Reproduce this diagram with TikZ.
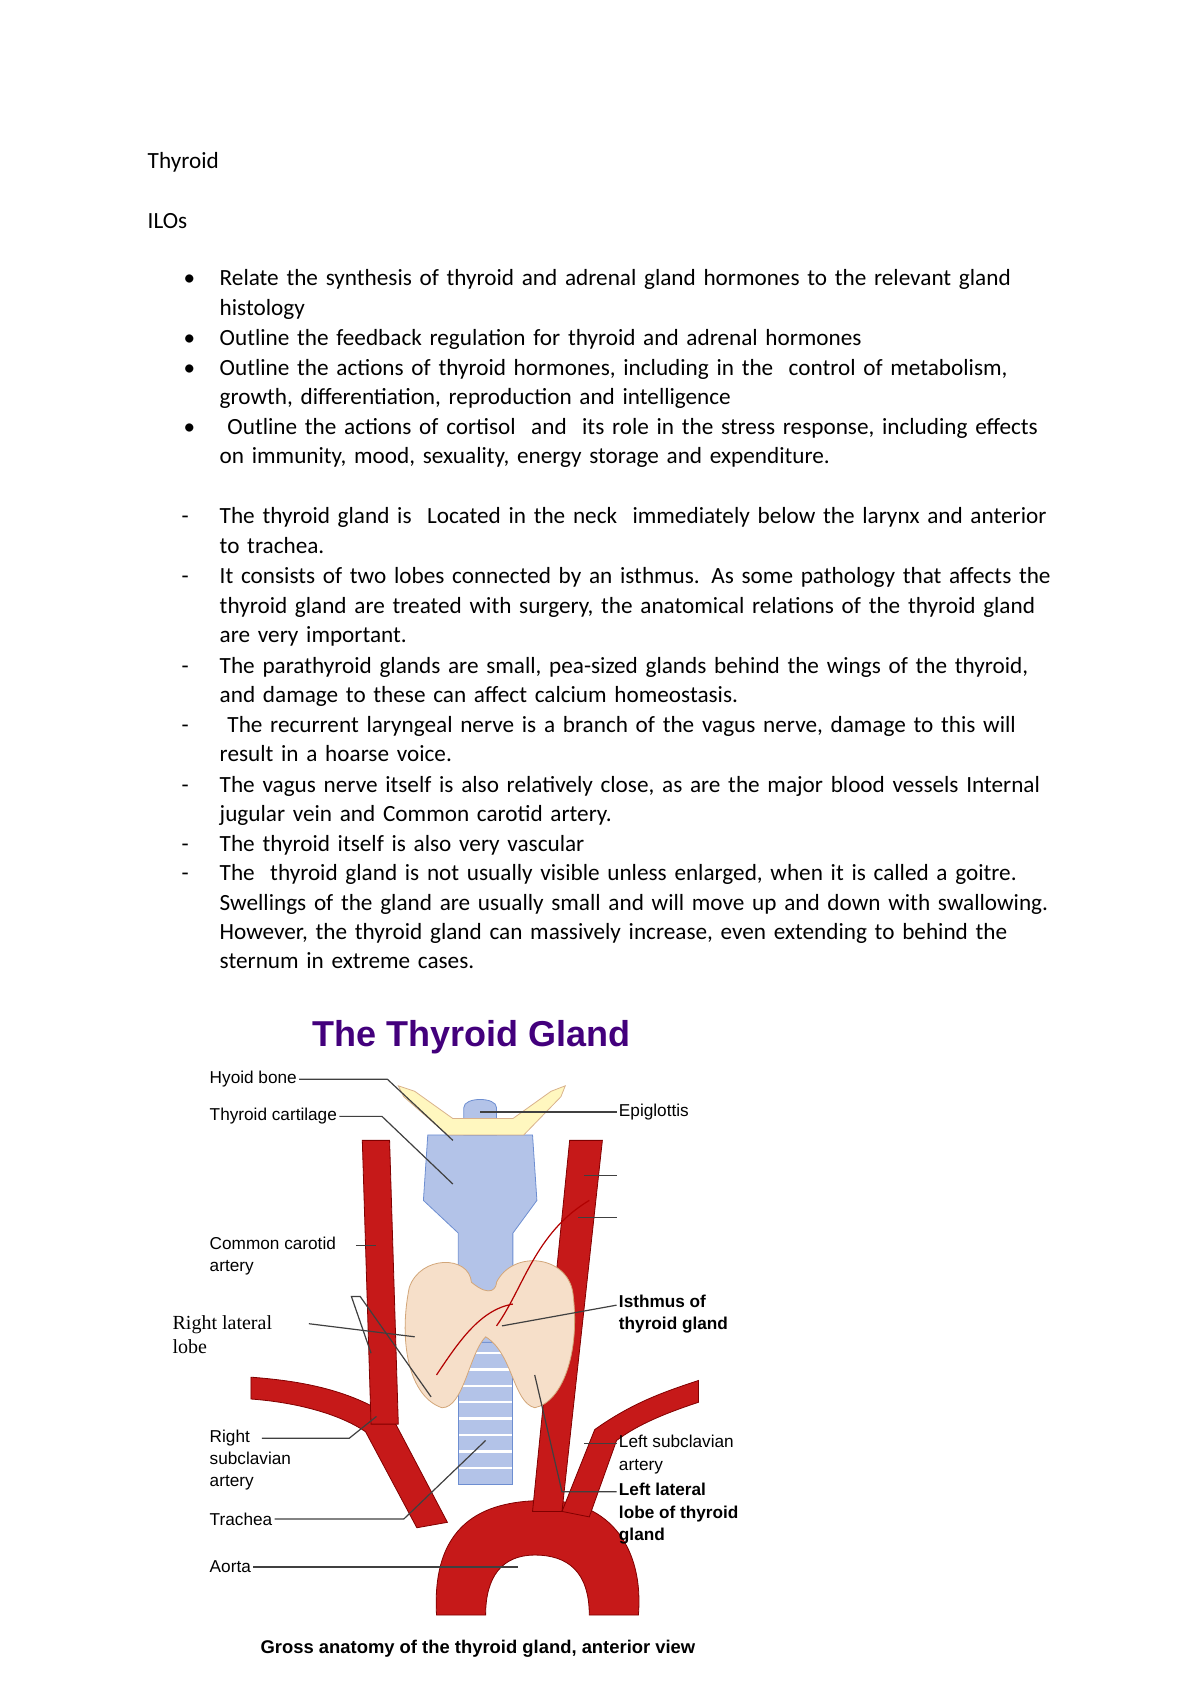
\documentclass[tikz,border=0pt]{standalone}
\usepackage{fontspec}
\setmainfont{Carlito}
\newfontfamily\labelfont{Liberation Sans}
\newfontfamily\serflab{Liberation Serif}
\hyphenpenalty=10000
\exhyphenpenalty=10000
\begin{document}
\begin{tikzpicture}[x=0.5455pt,y=-0.5455pt,
	para/.style={anchor=base west, align=left, text width=425pt, font=\fontsize{11.6}{14.7}\selectfont, inner sep=0pt},
	bul/.style={anchor=base west, inner sep=0pt, font=\fontsize{11.6}{14.7}\selectfont},
	lab/.style={font=\labelfont\fontsize{8.6}{11.2}\selectfont, align=left, inner sep=1pt},
	blab/.style={lab, font=\labelfont\bfseries\fontsize{8.6}{11.2}\selectfont},
	lead/.style={draw=black!75, line width=0.6pt},
	artery/.style={fill=red!75!black!90, draw=red!50!black, line width=0.4pt},
	airway/.style={fill=cyan!45!blue!30, draw=cyan!40!blue!60, line width=0.4pt}]
	\useasboundingbox (0,0) rectangle (1100,1556);

	\node[bul] (head) at (135,154) {Thyroid};
	\node[bul] (ilos) at (135,209) {ILOs};

	\foreach \yy/\txt in {262/{Relate the synthesis of thyroid and adrenal gland hormones to the relevant gland histology},
		317/{Outline the feedback regulation for thyroid and adrenal hormones},
		344/{Outline the actions of thyroid hormones, including in the \ control of metabolism, growth, differentiation, reproduction and intelligence},
		398/{\ Outline the actions of cortisol \ and \ its role in the stress response, including effects on immunity, mood, sexuality, energy storage and expenditure.}}{
		\node[bul] at (168,\yy) {\textbullet};
		\node[para] at (201,\yy) {\txt};
	}

	\foreach \yy/\txt in {480/{The thyroid gland is \ Located in the neck \ immediately below the larynx and anterior to trachea.},
		535/{It consists of two lobes connected by an isthmus. As some pathology that affects the thyroid gland are treated with surgery, the anatomical relations of the thyroid gland are very important.},
		617/{The parathyroid glands are small, pea-sized glands behind the wings of the thyroid, and damage to these can affect calcium homeostasis.},
		671/{\ The recurrent laryngeal nerve is a branch of the vagus nerve, damage to this will result in a hoarse voice.},
		726/{The vagus nerve itself is also relatively close, as are the major blood vessels Internal jugular vein and Common carotid artery.},
		780/{The thyroid itself is also very vascular},
		807/{The \ thyroid gland is not usually visible unless enlarged, when it is called a goitre. Swellings of the gland are usually small and will move up and down with swallowing. However, the thyroid gland can massively increase, even extending to behind the sternum in extreme cases.}}{
		\node[bul] at (166,\yy) {-};
		\node[para] at (201,\yy) {\txt};
	}

	% figure
	\node[font=\labelfont\bfseries\fontsize{18}{22}\selectfont, text=violet!70!blue!75!black] (title) at (432,950) {The Thyroid Gland};

	% aorta and branches
	\fill[artery] (400,1480) .. controls (395,1390) and (450,1375) .. (500,1375) .. controls (560,1375) and (590,1420) .. (585,1480) -- (540,1480) .. controls (540,1440) and (520,1425) .. (490,1425) .. controls (460,1425) and (445,1445) .. (445,1480) -- cycle;
	\fill[artery] (410,1395) -- (360,1300) .. controls (320,1272) and (270,1265) .. (230,1262) -- (230,1282) .. controls (270,1285) and (310,1295) .. (335,1312) -- (382,1400) -- cycle;
	\fill[artery] (332,1045) -- (357,1045) -- (365,1305) -- (340,1305) -- cycle;
	\fill[artery] (522,1045) -- (552,1045) -- (515,1385) -- (488,1385) -- cycle;
	\fill[artery] (515,1385) -- (545,1310) .. controls (580,1285) and (610,1275) .. (640,1265) -- (640,1285) .. controls (610,1295) and (585,1305) .. (565,1320) -- (540,1390) -- cycle;

	% airway
	\fill[airway] (420,1230) rectangle (470,1360);
	\foreach \k in {0,...,7}{\draw[white, line width=1.2pt] (421,1240+\k*15) -- (469,1240+\k*15);}
	\fill[airway] (392,1040) -- (488,1040) -- (492,1100) -- (470,1130) -- (470,1230) -- (420,1230) -- (420,1130) -- (388,1100) -- cycle;
	\fill[airway] (425,1015) .. controls (425,1005) and (455,1005) .. (455,1015) -- (455,1040) -- (425,1040) -- cycle;
	\fill[orange!25!yellow!25, draw=brown!60, line width=0.4pt] (365,995) -- (380,1000) -- (415,1025) -- (470,1025) -- (505,1000) -- (518,995) -- (514,1005) -- (480,1040) -- (410,1040) -- (370,1005) -- cycle;

	% thyroid lobes and isthmus
	\fill[orange!40!brown!25, draw=brown!70, line width=0.4pt] (375,1180) .. controls (385,1150) and (430,1150) .. (432,1175) .. controls (450,1190) and (455,1180) .. (455,1175) .. controls (470,1145) and (520,1150) .. (525,1185) .. controls (532,1240) and (515,1285) .. (490,1290) .. controls (470,1285) and (470,1240) .. (445,1225) .. controls (430,1240) and (425,1290) .. (405,1290) .. controls (375,1280) and (365,1230) .. (375,1180) -- cycle;
	\draw[red!70!black, line width=0.6pt] (540,1100) .. controls (490,1130) and (480,1180) .. (455,1215) (470,1195) .. controls (440,1200) and (420,1230) .. (400,1260);

	% labels
	\node[lab, anchor=west] (hyoid) at (190,989) {Hyoid bone};
	\node[lab, anchor=west] (cart) at (190,1023) {Thyroid cartilage};
	\node[lab, anchor=west] (carotid) at (190,1151) {Common carotid\\artery};
	\node[font=\serflab\fontsize{10}{12}\selectfont, align=left, anchor=west, inner sep=1pt] (rlobe) at (156,1223) {Right lateral\\lobe};
	\node[lab, anchor=west] (rsub) at (190,1338) {Right\\subclavian\\artery};
	\node[lab, anchor=west] (trachea) at (190,1392) {Trachea};
	\node[lab, anchor=west] (aorta) at (190,1436) {Aorta};
	\node[lab, anchor=west] (epi) at (565,1019) {Epiglottis};
	\node[blab, anchor=west] (isth) at (565,1204) {Isthmus of\\thyroid gland};
	\node[lab, anchor=west] (lsub) at (565,1333) {Left subclavian\\artery};
	\node[blab, anchor=west] (llobe) at (565,1387) {Left lateral\\lobe of thyroid\\gland};
	\node[font=\labelfont\bfseries\fontsize{9.2}{11}\selectfont] (caption) at (438,1511) {Gross anatomy of the thyroid gland, anterior view};

	\coordinate (u1) at (565,1077);
	\coordinate (u2) at (565,1116);
	\draw[lead] (hyoid.east) -- (355,989) -- (415,1045);
	\draw[lead] (cart.east) -- (350,1023) -- (415,1085);
	\draw[lead] (326,1141) -- (345,1141);
	\draw[lead] (283,1213) -- (380,1225);
	\draw[lead] (340,1240) -- (322,1188) -- (330,1188) -- (395,1280);
	\draw[lead] (240,1318) -- (320,1318) -- (345,1298);
	\draw[lead] (trachea.east) -- (370,1392) -- (445,1320);
	\draw[lead] (aorta.east) -- (475,1436);
	\draw[lead] (epi.west) -- (440,1019);
	\draw[lead] (u1) -- (535,1077);
	\draw[lead] (u2) -- (530,1116);
	\draw[lead] (565,1196) -- (460,1215);
	\draw[lead] (565,1323) -- (535,1323);
	\draw[lead] (565,1367) -- (515,1367) -- (490,1260);
\end{tikzpicture}
\end{document}
